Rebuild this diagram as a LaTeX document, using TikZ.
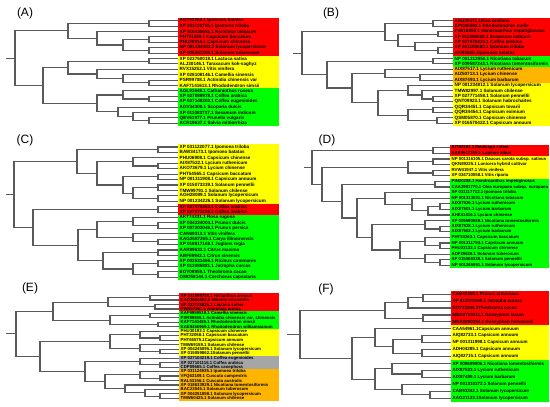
\documentclass[tikz,border=0pt]{standalone}
\usepackage{fontspec}
\setmainfont{Liberation Sans}
\usetikzlibrary{positioning}

\definecolor{cladeRed}{HTML}{FF0000}
\definecolor{cladeYellow}{HTML}{FFFF00}
\definecolor{cladeGreen}{HTML}{00FF00}
\definecolor{cladeOrange}{HTML}{FFB400}
\definecolor{cladeGray}{HTML}{A6A6A6}
\definecolor{branchGray}{HTML}{5A5A5A}

\newcommand{\branchWidth}{1.1pt}
\newcommand{\leafFont}[1]{\fontsize{#1}{#1}\selectfont\bfseries}
\newcommand{\panelFont}{\fontsize{12}{14}\selectfont}

\tikzset{
  branch/.style={draw=branchGray, line width=\branchWidth},
  leaf/.style={anchor=west, inner xsep=1.5pt, inner ysep=0.3pt, font=\leafFont{4.6}},
  panel/.style={font=\panelFont, inner sep=0pt}
}

\begin{document}
\begin{tikzpicture}[x=1pt, y=-1pt]
  \useasboundingbox (0,0) rectangle (550,407);

  % Panel labels
  \node[panel] (labA) at (25,13.5) {(A)};
  \node[panel] (labB) at (331,13.5) {(B)};
  \node[panel] (labC) at (25,140.5) {(C)};
  \node[panel] (labD) at (327,140) {(D)};
  \node[panel] (labE) at (30,288) {(E)};
  \node[panel] (labF) at (326,289.5) {(F)};

  % ---------------- Panel A
  \begin{scope}[yshift=-15.3pt, y=-5.4pt]
    \begin{scope}
      \clip (178,0.5) rectangle (279,20.5);
      \fill[cladeRed] (178,0.5) rectangle (279,7.5);
      \fill[cladeYellow] (178,7.5) rectangle (279,13.5);
      \fill[cladeGreen] (178,13.5) rectangle (279,20.5);
      \node[leaf] (a1) at (178,1) {AGT02260.1 Ipomoea batatas};
      \node[leaf] (a2) at (178,2) {XP 031123755.1 Ipomoea triloba};
      \node[leaf] (a3) at (178,3) {XP 016435651.1 Nicotiana tabacum};
      \node[leaf] (a4) at (178,4) {PHT51169.1 Capsicum baccatum};
      \node[leaf] (a5) at (178,5) {PHU20914.1 Capsicum chinense};
      \node[leaf] (a6) at (178,6) {NP 001234302.2 Solanum lycopersicum};
      \node[leaf] (a7) at (178,7) {XP 006367299.1 Solanum tuberosum};
      \node[leaf] (a8) at (178,8) {XP 023760018.1 Lactuca sativa};
      \node[leaf] (a9) at (178,9) {ALJ30146.1 Taraxacum kok-saghyz};
      \node[leaf] (a10) at (178,10) {RVX15252.1 Vitis vinifera};
      \node[leaf] (a11) at (178,11) {XP 028108146.1 Camellia sinensis};
      \node[leaf] (a12) at (178,12) {PSR99708.1 Actinidia chinensis var};
      \node[leaf] (a13) at (178,13) {KAF7141613.1 Rhododendron simsii};
      \node[leaf] (a14) at (178,14) {AGL91648.1 Catharanthus roseus};
      \node[leaf] (a15) at (178,15) {XP 027089978.1 Coffea arabica};
      \node[leaf] (a16) at (178,16) {XP 027148302.1 Coffea eugenioides};
      \node[leaf] (a17) at (178,17) {AGV34300.1 Scoparia dulcis};
      \node[leaf] (a18) at (178,18) {XP 011083737.1 Sesamum indicum};
      \node[leaf] (a19) at (178,19) {QEV61977.1 Prunella vulgaris};
      \node[leaf] (a20) at (178,20) {ACR19637.1 Salvia miltiorrhiza};
    \end{scope}
    % inner nodes
    \coordinate (a1to2) at (149,1.5);
    \coordinate (a4to5) at (149,4.5);
    \coordinate (a6to7) at (149,6.5);
    \coordinate (a4to7) at (123,5.5);
    \coordinate (a3to7) at (97,4.25);
    \coordinate (a1to7) at (68,2.875);
    \coordinate (a8to9) at (149,8.5);
    \coordinate (a12to13) at (149,12.5);
    \coordinate (a11to13) at (123,11.75);
    \coordinate (a10to13) at (97,10.875);
    \coordinate (a8to13) at (68,9.6875);
    \coordinate (a15to16) at (149,15.5);
    \coordinate (a14to16) at (123,14.75);
    \coordinate (a19to20) at (149,19.5);
    \coordinate (a18to20) at (133,18.75);
    \coordinate (a17to20) at (118,17.875);
    \coordinate (a14to20) at (97,16.3125);
    \coordinate (a8to20) at (43,13);
    \coordinate (aroot) at (15,7.9375);
    \coordinate (astub) at (6,7.9375);
    % branches
    \draw[branch] (astub) -- (aroot);
    \foreach \p/\c in {aroot/a1to7, aroot/a8to20, a1to7/a1to2, a1to7/a3to7,
        a1to2/a1, a1to2/a2, a3to7/a3, a3to7/a4to7, a4to7/a4to5, a4to7/a6to7,
        a4to5/a4, a4to5/a5, a6to7/a6, a6to7/a7, a8to20/a8to13, a8to20/a14to20,
        a8to13/a8to9, a8to13/a10to13, a8to9/a8, a8to9/a9, a10to13/a10,
        a10to13/a11to13, a11to13/a11, a11to13/a12to13, a12to13/a12, a12to13/a13,
        a14to20/a14to16, a14to20/a17to20, a14to16/a14, a14to16/a15to16,
        a15to16/a15, a15to16/a16, a17to20/a17, a17to20/a18to20, a18to20/a18,
        a18to20/a19to20, a19to20/a19, a19to20/a20}
      \draw[branch] (\p) |- (\c);
  \end{scope}

  % ---------------- Panel B
  \begin{scope}[yshift=-15.3pt, y=-5.4pt]
    \begin{scope}
      \clip (453,0.5) rectangle (550,20.5);
      \fill[cladeRed] (453,0.5) rectangle (550,7.5);
      \fill[cladeGreen] (453,7.5) rectangle (550,9.5);
      \fill[cladeOrange] (453,9.5) rectangle (550,12.5);
      \fill[cladeYellow] (453,12.5) rectangle (550,20.5);
      \node[leaf] (b1) at (453,1) {AMJ39471.1Bixa orellana};
      \node[leaf] (b2) at (453,2) {APO06593.1 Rhododendron molle};
      \node[leaf] (b3) at (453,3) {PWI16050.1 Handroanthus impetiginosus};
      \node[leaf] (b4) at (453,4) {XP 011096928.1 Sesamum indicum};
      \node[leaf] (b5) at (453,5) {XP 027078434.1 Coffea arabica};
      \node[leaf] (b6) at (453,6) {XP 031109682.1 Ipomoea triloba};
      \node[leaf] (b7) at (453,7) {AYI00805.1Ipomoea batatas};
      \node[leaf] (b8) at (453,8) {NP 001312950.1 Nicotiana tabacum};
      \node[leaf] (b9) at (453,9) {XP 009587242.1 Nicotiana tomentosiformis};
      \node[leaf] (b10) at (453,10) {AIX87517.1 Lycium ruthenicum};
      \node[leaf] (b11) at (453,11) {AIZ50713.1 Lycium chinense};
      \node[leaf] (b12) at (453,12) {AIX87493.1 Lycium barbarum};
      \node[leaf] (b13) at (453,13) {NP 001234812.1 Solanum lycopersicum};
      \node[leaf] (b14) at (453,14) {TMW82997.1 Solanum chilense};
      \node[leaf] (b15) at (453,15) {XP 027771458.1 Solanum pennellii};
      \node[leaf] (b16) at (453,16) {QNT09923.1 Solanum habrochaites};
      \node[leaf] (b17) at (453,17) {QQR34451.1 Capsicum tovarii};
      \node[leaf] (b18) at (453,18) {QQR34454.1 Capsicum eximium};
      \node[leaf] (b19) at (453,19) {QSM05870.1 Capsicum chinense};
      \node[leaf] (b20) at (453,20) {XP 016570422.1 Capsicum annuum};
    \end{scope}
    % inner nodes
    \coordinate (b1to2) at (433,1.5);
    \coordinate (b3to4) at (438,3.5);
    \coordinate (b6to7) at (438,6.5);
    \coordinate (b5to7) at (415,5.75);
    \coordinate (b3to7) at (398,4.625);
    \coordinate (b1to7) at (385,3.0625);
    \coordinate (b8to9) at (433,8.5);
    \coordinate (b11to12) at (420,11.5);
    \coordinate (b10to12) at (385,10.75);
    \coordinate (b15to16) at (433,15.5);
    \coordinate (b14to16) at (422,14.75);
    \coordinate (b13to16) at (408,13.875);
    \coordinate (b17to18) at (433,17.5);
    \coordinate (b19to20) at (437,19.5);
    \coordinate (b17to20) at (408,18.5);
    \coordinate (b13to20) at (378,16.1875);
    \coordinate (b10to20) at (352,13.469);
    \coordinate (b8to20) at (327,10.984);
    \coordinate (broot) at (302,7.023);
    \coordinate (bstub) at (293,7.023);
    % branches
    \draw[branch] (bstub) -- (broot);
    \foreach \p/\c in {broot/b1to7, broot/b8to20, b1to7/b1to2, b1to7/b3to7,
        b1to2/b1, b1to2/b2, b3to7/b3to4, b3to7/b5to7, b3to4/b3, b3to4/b4,
        b5to7/b5, b5to7/b6to7, b6to7/b6, b6to7/b7, b8to20/b8to9, b8to20/b10to20,
        b8to9/b8, b8to9/b9, b10to20/b10to12, b10to20/b13to20, b10to12/b10,
        b10to12/b11to12, b11to12/b11, b11to12/b12, b13to20/b13to16,
        b13to20/b17to20, b13to16/b13, b13to16/b14to16, b14to16/b14,
        b14to16/b15to16, b15to16/b15, b15to16/b16, b17to20/b17to18,
        b17to20/b19to20, b17to18/b17, b17to18/b18, b19to20/b19, b19to20/b20}
      \draw[branch] (\p) |- (\c);
  \end{scope}

  % ---------------- Panel C
  \begin{scope}[yshift=-141.6pt, y=-5.42pt]
    \begin{scope}
      \clip (178,0.5) rectangle (279,25.5);
      \fill[cladeYellow] (178,0.5) rectangle (279,11.5);
      \fill[cladeRed] (178,11.5) rectangle (279,13.5);
      \fill[cladeGreen] (178,13.5) rectangle (279,25.5);
      \node[leaf] (c1) at (178,1) {XP 031122077.1 Ipomoea triloba};
      \node[leaf] (c2) at (178,2) {BAW34173.1 Ipomoea batatas};
      \node[leaf] (c3) at (178,3) {PHU06908.1 Capsicum chinense};
      \node[leaf] (c4) at (178,4) {AIX87522.1 Lycium ruthenicum};
      \node[leaf] (c5) at (178,5) {AKO73679.1 Lycium chinense};
      \node[leaf] (c6) at (178,6) {PHT54565.1 Capsicum baccatum};
      \node[leaf] (c7) at (178,7) {NP 001311908.1 Capsicum annuum};
      \node[leaf] (c8) at (178,8) {XP 015073339.1 Solanum pennellii};
      \node[leaf] (c9) at (178,9) {TMW99791.1 Solanum chilense};
      \node[leaf] (c10) at (178,10) {AGH28089.1 Solanum lycopersicum};
      \node[leaf] (c11) at (178,11) {NP 001234226.1 Solanum lycopersicum};
      \node[leaf] (c12) at (178,12) {XP 027079363.1 Coffea arabica};
      \node[leaf] (c13) at (178,13) {XP 027073220.1 Coffea arabica};
      \node[leaf] (c14) at (178,14) {AKT74331.1 Rosa rugosa};
      \node[leaf] (c15) at (178,15) {XP 034224004.1 Prunus dulcis};
      \node[leaf] (c16) at (178,16) {XP 007202046.1 Prunus persica};
      \node[leaf] (c17) at (178,17) {CAN69313.1 Vitis vinifera};
      \node[leaf] (c18) at (178,18) {KAG2687265.1 Carya illinoinensis};
      \node[leaf] (c19) at (178,19) {XP 018817168.1 Juglans regia};
      \node[leaf] (c20) at (178,20) {AAR89632.1 Citrus maxima};
      \node[leaf] (c21) at (178,21) {ABF69942.1 Citrus sinensis};
      \node[leaf] (c22) at (178,22) {XP 002531466.1 Ricinus communis};
      \node[leaf] (c23) at (178,23) {XP 012085881.1 Jatropha curcas};
      \node[leaf] (c24) at (178,24) {EOY09859.1 Theobroma cacao};
      \node[leaf] (c25) at (178,25) {OMO58144.1 Corchorus capsularis};
    \end{scope}
    % inner nodes
    \coordinate (c1to2) at (158,1.5);
    \coordinate (c4to5) at (158,4.5);
    \coordinate (c3to5) at (133,3.75);
    \coordinate (c6to7) at (158,6.5);
    \coordinate (c8to9) at (158,8.5);
    \coordinate (c10to11) at (158,10.5);
    \coordinate (c8to11) at (133,9.5);
    \coordinate (c6to11) at (123,8);
    \coordinate (c3to11) at (97,5.875);
    \coordinate (c1to11) at (77,3.6875);
    \coordinate (c12to13) at (158,12.5);
    \coordinate (c15to16) at (158,15.5);
    \coordinate (c14to16) at (133,14.75);
    \coordinate (c18to19) at (158,18.5);
    \coordinate (c17to19) at (133,17.75);
    \coordinate (c14to19) at (97,16.25);
    \coordinate (c20to21) at (158,20.5);
    \coordinate (c22to23) at (158,22.5);
    \coordinate (c24to25) at (158,24.5);
    \coordinate (c22to25) at (133,23.5);
    \coordinate (c20to25) at (103,22);
    \coordinate (c14to25) at (78,19.125);
    \coordinate (c12to25) at (33,15.8125);
    \coordinate (croot) at (14,9.75);
    \coordinate (cstub) at (6,9.75);
    % branches
    \draw[branch] (cstub) -- (croot);
    \foreach \p/\c in {croot/c1to11, croot/c12to25, c1to11/c1to2, c1to11/c3to11,
        c1to2/c1, c1to2/c2, c3to11/c3to5, c3to11/c6to11, c3to5/c3, c3to5/c4to5,
        c4to5/c4, c4to5/c5, c6to11/c6to7, c6to11/c8to11, c6to7/c6, c6to7/c7,
        c8to11/c8to9, c8to11/c10to11, c8to9/c8, c8to9/c9, c10to11/c10,
        c10to11/c11, c12to25/c12to13, c12to25/c14to25, c12to13/c12,
        c12to13/c13, c14to25/c14to19, c14to25/c20to25, c14to19/c14to16,
        c14to19/c17to19, c14to16/c14, c14to16/c15to16, c15to16/c15,
        c15to16/c16, c17to19/c17, c17to19/c18to19, c18to19/c18, c18to19/c19,
        c20to25/c20to21, c20to25/c22to25, c20to21/c20, c20to21/c21,
        c22to25/c22to23, c22to25/c24to25, c22to23/c22, c22to23/c23,
        c24to25/c24, c24to25/c25}
      \draw[branch] (\p) |- (\c);
  \end{scope}

  % ---------------- Panel D
  \begin{scope}[yshift=-142.2pt, y=-5.6pt, leaf/.append style={font=\leafFont{4.3}}]
    \begin{scope}
      \clip (450,0.5) rectangle (549,22.5);
      \fill[cladeRed] (450,0.5) rectangle (549,2.5);
      \fill[cladeYellow] (450,2.5) rectangle (549,6.5);
      \fill[cladeGreen] (450,6.5) rectangle (549,22.5);
      \node[leaf] (d1) at (450,1) {AIT58181.1 Medicago sativa};
      \node[leaf] (d2) at (450,2) {KAE9617399.1 Lupinus albus};
      \node[leaf] (d3) at (450,3) {NP 001316105.1 Daucus carota subsp. sativus};
      \node[leaf] (d4) at (450,4) {QKN89225.1 Lonicera hybrid cultivar};
      \node[leaf] (d5) at (450,5) {RVW41947.1 Vitis vinifera};
      \node[leaf] (d6) at (450,6) {XP 034710058.1 Vitis riparia};
      \node[leaf] (d7) at (450,7) {PIN20288.1 Handroanthus impetiginosus};
      \node[leaf] (d8) at (450,8) {CAA2991770.1 Olea europaea subsp. europaea};
      \node[leaf] (d9) at (450,9) {XP 031117712.1 Ipomoea triloba};
      \node[leaf] (d10) at (450,10) {NP 001313021.1 Nicotiana tabacum};
      \node[leaf] (d11) at (450,11) {AIX87526.1 Lycium ruthenicum};
      \node[leaf] (d12) at (450,12) {AIX87501.1 Lycium barbarum};
      \node[leaf] (d13) at (450,13) {AHE41416.1 Lycium chinense};
      \node[leaf] (d14) at (450,14) {XP 009590989.1 Nicotiana tomentosiformis};
      \node[leaf] (d15) at (450,15) {AIX87528.1 Lycium ruthenicum};
      \node[leaf] (d16) at (450,16) {AIX87502.1 Lycium barbarum};
      \node[leaf] (d17) at (450,17) {PHT53263.1 Capsicum baccatum};
      \node[leaf] (d18) at (450,18) {NP 001311794.1 Capsicum annuum};
      \node[leaf] (d19) at (450,19) {PHU23132.1 Capsicum chinense};
      \node[leaf] (d20) at (450,20) {ADF29628.1 Solanum tuberosum};
      \node[leaf] (d21) at (450,21) {XP 015068338.1 Solanum pennellii};
      \node[leaf] (d22) at (450,22) {NP 001265951.1 Solanum lycopersicum};
    \end{scope}
    % inner nodes
    \coordinate (d1to2) at (433,1.5);
    \coordinate (d3to4) at (433,3.5);
    \coordinate (d5to6) at (433,5.5);
    \coordinate (d3to6) at (408,4.5);
    \coordinate (d7to8) at (435,7.5);
    \coordinate (d11to12) at (440,11.5);
    \coordinate (d11to13) at (428,12.25);
    \coordinate (d10to13) at (412,11.125);
    \coordinate (d9to13) at (385,10.0625);
    \coordinate (d15to16) at (440,15.5);
    \coordinate (d14to16) at (425,14.75);
    \coordinate (d18to19) at (440,18.5);
    \coordinate (d17to19) at (425,17.75);
    \coordinate (d21to22) at (440,21.5);
    \coordinate (d20to22) at (425,20.75);
    \coordinate (d17to22) at (400,19.25);
    \coordinate (d14to22) at (372,17);
    \coordinate (d9to22) at (357,13.53);
    \coordinate (d7to22) at (342,10.516);
    \coordinate (d3to22) at (322,7.508);
    \coordinate (droot) at (312,4.504);
    \coordinate (dstub) at (304,4.504);
    % branches
    \draw[branch] (dstub) -- (droot);
    \foreach \p/\c in {droot/d1to2, droot/d3to22, d1to2/d1, d1to2/d2,
        d3to22/d3to6, d3to22/d7to22, d3to6/d3to4, d3to6/d5to6, d3to4/d3,
        d3to4/d4, d5to6/d5, d5to6/d6, d7to22/d7to8, d7to22/d9to22, d7to8/d7,
        d7to8/d8, d9to22/d9to13, d9to22/d14to22, d9to13/d9, d9to13/d10to13,
        d10to13/d10, d10to13/d11to13, d11to13/d11to12, d11to13/d13,
        d11to12/d11, d11to12/d12, d14to22/d14to16, d14to22/d17to22,
        d14to16/d14, d14to16/d15to16, d15to16/d15, d15to16/d16,
        d17to22/d17to19, d17to22/d20to22, d17to19/d17, d17to19/d18to19,
        d18to19/d18, d18to19/d19, d20to22/d20, d20to22/d21to22,
        d21to22/d21, d21to22/d22}
      \draw[branch] (\p) |- (\c);
  \end{scope}

  % ---------------- Panel E
  \begin{scope}[yshift=-291.1pt, y=-4.47pt, leaf/.append style={font=\leafFont{4.3}}]
    \begin{scope}
      \clip (179,0.5) rectangle (279,24.5);
      \fill[cladeRed] (179,0.5) rectangle (279,4.5);
      \fill[cladeGreen] (179,4.5) rectangle (279,8.5);
      \fill[cladeYellow] (179,8.5) rectangle (279,14.5);
      \fill[cladeGray] (179,14.5) rectangle (279,17.5);
      \fill[cladeOrange] (179,17.5) rectangle (279,24.5);
      \node[leaf] (e1) at (179,1) {XP 021999758.1 Helianthus annuus};
      \node[leaf] (e2) at (179,2) {KAD3804403.1 Mikania micrantha};
      \node[leaf] (e3) at (179,3) {XP 023755826.1 Lactuca sativa};
      \node[leaf] (e4) at (179,4) {PWA57967.1 Artemisia annua};
      \node[leaf] (e5) at (179,5) {KAF9959518.1 Camellia sinensis};
      \node[leaf] (e6) at (179,6) {PSR99558.1 Actinidia chinensis var. chinensis};
      \node[leaf] (e7) at (179,7) {KAF7140485.1 Rhododendron simsii};
      \node[leaf] (e8) at (179,8) {KAE9456969.1 Rhododendron williamsianum};
      \node[leaf] (e9) at (179,9) {PHU30193.1 Capsicum chinense};
      \node[leaf] (e10) at (179,10) {PHT32058.1 Capsicum baccatum};
      \node[leaf] (e11) at (179,11) {PHT66575.1Capsicum annuum};
      \node[leaf] (e12) at (179,12) {TMW69159.1 Solanum chilense};
      \node[leaf] (e13) at (179,13) {XP 004245095.1 Solanum lycopersicum};
      \node[leaf] (e14) at (179,14) {XP 015059862.1Solanum pennellii};
      \node[leaf] (e15) at (179,15) {XP 027104219.1 Coffea eugenioides};
      \node[leaf] (e16) at (179,16) {XP 027101116.1 Coffea arabica};
      \node[leaf] (e17) at (179,17) {CDP09665.1 Coffea canephora};
      \node[leaf] (e18) at (179,18) {XP 031124935.1 Ipomoea triloba};
      \node[leaf] (e19) at (179,19) {VFQ63189.1 Cuscuta campestris};
      \node[leaf] (e20) at (179,20) {RAL53156.1 Cuscuta australis};
      \node[leaf] (e21) at (179,21) {XP 018633929.1 Nicotiana tomentosiformis};
      \node[leaf] (e22) at (179,22) {BAC23045.1 Solanum tuberosum};
      \node[leaf] (e23) at (179,23) {XP 004251858.1 Solanum lycopersicum};
      \node[leaf] (e24) at (179,24) {TMW60425.1 Solanum chilense};
    \end{scope}
    % inner nodes
    \coordinate (e1to2) at (150,1.5);
    \coordinate (e3to4) at (155,3.5);
    \coordinate (e1to4) at (108,2.5);
    \coordinate (e5to6) at (150,5.5);
    \coordinate (e7to8) at (158,7.5);
    \coordinate (e5to8) at (110,6.5);
    \coordinate (e1to8) at (53,4.5);
    \coordinate (e10to11) at (160,10.5);
    \coordinate (e9to11) at (140,9.75);
    \coordinate (e13to14) at (160,13.5);
    \coordinate (e12to14) at (140,12.75);
    \coordinate (e9to14) at (110,11.25);
    \coordinate (e16to17) at (160,16.5);
    \coordinate (e15to17) at (140,15.75);
    \coordinate (e19to20) at (160,19.5);
    \coordinate (e18to20) at (140,18.75);
    \coordinate (e23to24) at (160,23.5);
    \coordinate (e22to24) at (145,22.75);
    \coordinate (e21to24) at (125,21.875);
    \coordinate (e18to24) at (105,20.3125);
    \coordinate (e15to24) at (85,18.03);
    \coordinate (e9to24) at (40,14.64);
    \coordinate (eroot) at (16,9.57);
    \coordinate (estub) at (6,9.57);
    % branches
    \draw[branch] (estub) -- (eroot);
    \foreach \p/\c in {eroot/e1to8, eroot/e9to24, e1to8/e1to4, e1to8/e5to8,
        e1to4/e1to2, e1to4/e3to4, e1to2/e1, e1to2/e2, e3to4/e3, e3to4/e4,
        e5to8/e5to6, e5to8/e7to8, e5to6/e5, e5to6/e6, e7to8/e7, e7to8/e8,
        e9to24/e9to14, e9to24/e15to24, e9to14/e9to11, e9to14/e12to14,
        e9to11/e9, e9to11/e10to11, e10to11/e10, e10to11/e11, e12to14/e12,
        e12to14/e13to14, e13to14/e13, e13to14/e14, e15to24/e15to17,
        e15to24/e18to24, e15to17/e15, e15to17/e16to17, e16to17/e16,
        e16to17/e17, e18to24/e18to20, e18to24/e21to24, e18to20/e18,
        e18to20/e19to20, e19to20/e19, e19to20/e20, e21to24/e21,
        e21to24/e22to24, e22to24/e22, e22to24/e23to24, e23to24/e23,
        e23to24/e24}
      \draw[branch] (\p) |- (\c);
  \end{scope}

  % ---------------- Panel F
  \begin{scope}[yshift=-287.2pt, y=-6.94pt, leaf/.append style={font=\leafFont{4.5}}]
    \begin{scope}
      \clip (451,0.5) rectangle (549,16.5);
      \fill[cladeRed] (451,0.5) rectangle (549,5.5);
      \fill[cladeYellow] (451,5.5) rectangle (549,10.5);
      \fill[cladeGreen] (451,10.5) rectangle (549,16.5);
      \node[leaf] (f1) at (451,1) {CAB42368.1 Prunus armeniaca};
      \node[leaf] (f2) at (451,2) {XP 012070159.1 Jatropha curcas};
      \node[leaf] (f3) at (451,3) {EOY33285.1Theobroma cacao};
      \node[leaf] (f4) at (451,4) {MBA0713011.1 Gossypium laxum};
      \node[leaf] (f5) at (451,5) {MBA0800353.1 Gossypium harknessii};
      \node[leaf] (f6) at (451,6) {CAA54961.1Capsicum annuum};
      \node[leaf] (f7) at (451,7) {AIQ82733.1 Capsicum annuum};
      \node[leaf] (f8) at (451,8) {NP 001311998.1 Capsicum annuum};
      \node[leaf] (f9) at (451,9) {ADH04285.1 Capsicum annuum};
      \node[leaf] (f10) at (451,10) {AIQ82715.1 Capsicum annuum};
      \node[leaf] (f11) at (451,11) {XP 009609006.1 Nicotiana tomentosiformis};
      \node[leaf] (f12) at (451,12) {AIX87523.1 Lycium ruthenicum};
      \node[leaf] (f13) at (451,13) {AIX87499.1 Lycium barbarum};
      \node[leaf] (f14) at (451,14) {NP 001310372.1 Solanum pennellii};
      \node[leaf] (f15) at (451,15) {CAB93342.1 Solanum lycopersicum};
      \node[leaf] (f16) at (451,16) {AAG21133.1Solanum lycopersicum};
    \end{scope}
    % inner nodes
    \coordinate (f1to2) at (423,1.5);
    \coordinate (f1to3) at (408,2.25);
    \coordinate (f4to5) at (423,4.5);
    \coordinate (f1to5) at (385,3.375);
    \coordinate (f7to8) at (422,7.5);
    \coordinate (f9to10) at (422,9.5);
    \coordinate (f7to10) at (393,8.5);
    \coordinate (f6to10) at (375,7.25);
    \coordinate (f12to13) at (422,12.5);
    \coordinate (f11to13) at (392,11.75);
    \coordinate (f15to16) at (430,15.5);
    \coordinate (f14to16) at (402,14.75);
    \coordinate (f11to16) at (375,13.25);
    \coordinate (f6to16) at (352,10.25);
    \coordinate (froot) at (300,6.81);
    \coordinate (fstub) at (287,6.81);
    % branches
    \draw[branch] (fstub) -- (froot);
    \foreach \p/\c in {froot/f1to5, froot/f6to16, f1to5/f1to3, f1to5/f4to5,
        f1to3/f1to2, f1to3/f3, f1to2/f1, f1to2/f2, f4to5/f4, f4to5/f5,
        f6to16/f6to10, f6to16/f11to16, f6to10/f6, f6to10/f7to10,
        f7to10/f7to8, f7to10/f9to10, f7to8/f7, f7to8/f8, f9to10/f9,
        f9to10/f10, f11to16/f11to13, f11to16/f14to16, f11to13/f11,
        f11to13/f12to13, f12to13/f12, f12to13/f13, f14to16/f14,
        f14to16/f15to16, f15to16/f15, f15to16/f16}
      \draw[branch] (\p) |- (\c);
  \end{scope}
\end{tikzpicture}
\end{document}
